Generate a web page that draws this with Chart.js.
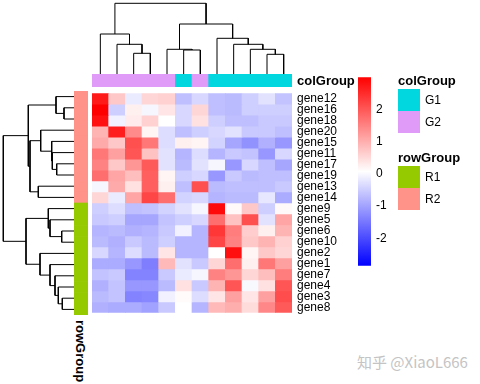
<!DOCTYPE html>
<html lang="en">
<head>
    <meta charset="UTF-8">
    <script src="https://cdn.jsdelivr.net/npm/chart.js"></script>
    <title>Heatmap</title>
    <style>
        body { margin: 0; background: #fff; font-family: "Liberation Sans", Arial, sans-serif; }
        #page { position: relative; width: 480px; height: 384px; overflow: hidden; }
        canvas, .txt, .sw { position: absolute; }
        .txt { white-space: nowrap; color: #000; }
        .bold { font-weight: bold; font-size: 13px; line-height: 15px; }
        .lab { font-size: 12px; line-height: 14px; }
        .sw { width: 22px; height: 22px; }
    </style>
</head>
<body>
<div id="page">
    <canvas id="colTree" width="200" height="74" style="left:92px;top:0px"></canvas>
    <canvas id="colBar" width="200" height="13" style="left:92px;top:74px"></canvas>
    <canvas id="rowTree" width="74" height="224" style="left:0px;top:91px"></canvas>
    <canvas id="rowBar" width="14" height="224" style="left:74px;top:91px"></canvas>
    <canvas id="heat" width="260" height="244" style="left:92px;top:81px"></canvas>
    <canvas id="scale" width="43" height="213" style="left:358px;top:65px"></canvas>

    <div class="txt bold" style="left:297px;top:73px">colGroup</div>
    <div class="txt bold" style="left:88px;top:320px;transform:rotate(90deg);transform-origin:left top">rowGroup</div>

    <div class="txt bold" style="left:398px;top:73px">colGroup</div>
    <div class="sw" id="swG1" style="left:398px;top:89px"></div>
    <div class="sw" id="swG2" style="left:398px;top:111px"></div>
    <div class="txt lab" style="left:425px;top:93px">G1</div>
    <div class="txt lab" style="left:425px;top:115px">G2</div>

    <div class="txt bold" style="left:398px;top:150px">rowGroup</div>
    <div class="sw" id="swR1" style="left:398px;top:166px"></div>
    <div class="sw" id="swR2" style="left:398px;top:188px"></div>
    <div class="txt lab" style="left:425px;top:170px">R1</div>
    <div class="txt lab" style="left:425px;top:192px">R2</div>

    <div class="txt" style="left:357px;top:351px;font-size:15px;color:#c4c4c4;font-family:'Noto Sans CJK SC',sans-serif">知乎 @XiaoL666</div>
</div>
<script>
    // rows top to bottom, as ordered by the clustering
    const geneNames = ['gene12', 'gene16', 'gene18', 'gene20', 'gene15', 'gene11', 'gene17', 'gene19', 'gene13', 'gene14',
        'gene9', 'gene5', 'gene6', 'gene10', 'gene2', 'gene1', 'gene7', 'gene4', 'gene3', 'gene8'];
    const colNames = ['S1', 'S2', 'S3', 'S4', 'S5', 'S6', 'S7', 'S8', 'S9', 'S10', 'S11', 'S12'];
    const colGroup = ['G2', 'G2', 'G2', 'G2', 'G2', 'G1', 'G2', 'G1', 'G1', 'G1', 'G1', 'G1'];
    const rowGroup = ['R2', 'R2', 'R2', 'R2', 'R2', 'R2', 'R2', 'R2', 'R2', 'R2',
        'R1', 'R1', 'R1', 'R1', 'R1', 'R1', 'R1', 'R1', 'R1', 'R1'];
    const groupColors = { G1: '#00D7DF', G2: '#E09AF8', R1: '#96CA00', R2: '#FF9289' };

    const values = [
        [2.70, 0.71, -0.15, 0.54, 0.60, -0.66, -0.38, -0.66, -0.72, -0.49, -0.26, -0.61], // gene12
        [3.00, -0.49, 0.25, -0.03, 0.37, -0.38, 0.54, -0.66, -0.72, -0.49, -0.49, -0.49], // gene16
        [2.80, -0.09, 0.30, 0.60, 0.08, -0.38, 0.42, -0.49, -0.66, -0.66, -0.55, -0.55], // gene18
        [0.94, 2.66, 1.40, 0.19, -0.32, -0.66, -0.49, -0.38, -0.26, -0.55, -0.55, -0.66], // gene20
        [1.05, 0.71, 2.08, 1.63, -0.32, 0.25, 0.19, -0.43, -0.95, -1.18, -0.83, -1.12], // gene15
        [1.63, 1.17, 2.03, 0.77, -0.26, -0.78, -0.32, -0.78, -0.55, -0.61, -1.12, -0.38], // gene11
        [1.51, 0.71, 1.28, 1.97, -0.26, -0.72, -0.26, -0.03, -1.12, -0.38, -0.66, -0.95], // gene17
        [1.74, 1.11, 0.82, 1.91, 0.19, -0.49, -0.38, -1.12, -0.55, -0.72, -0.66, -0.66], // gene19
        [-0.03, 1.05, 0.42, 1.91, 0.25, -0.66, 2.08, -0.72, -0.66, -0.66, -0.66, -0.55], // gene13
        [0.54, -0.15, 1.11, 2.20, 1.74, -0.43, -0.38, -0.78, -0.72, -0.72, -0.20, -0.89], // gene14
        [-0.49, -0.32, -0.66, -0.61, -0.43, -0.26, -0.03, 2.89, 0.14, 0.71, -0.49, 0.14], // gene9
        [-0.55, -0.49, -0.95, -0.95, -0.61, -0.49, -0.38, 1.74, 0.77, 2.08, -0.26, 1.11], // gene5
        [-0.78, -0.72, -0.83, -0.78, -0.55, -0.09, -0.78, 2.37, 1.57, 0.65, 0.25, 0.94], // gene6
        [-0.72, -0.83, -0.55, -0.72, -0.49, -0.78, -0.78, 2.20, 1.51, 0.71, 0.94, 0.60], // gene10
        [-0.38, -0.78, -0.32, -0.72, 0.37, -0.78, -0.78, 0.08, 2.83, 0.19, 0.71, 0.54], // gene2
        [-0.89, -0.89, -1.12, -1.40, 0.88, -0.26, -0.55, 0.54, 1.74, 0.25, 1.63, 1.17], // gene1
        [-0.61, -0.55, -1.35, -1.35, -0.55, -0.15, -0.03, 1.51, 1.28, 0.54, 0.82, 1.57], // gene7
        [-0.83, -0.61, -1.12, -1.12, -0.72, 0.42, -0.55, 0.94, 2.03, 0.00, 0.42, 2.03], // gene4
        [-0.72, -0.61, -1.35, -1.30, -0.09, 0.12, -0.32, 0.37, 1.17, 0.37, 1.17, 2.13], // gene3
        [-0.83, -0.89, -0.89, -1.00, -0.55, 0.08, -0.78, 0.88, 1.00, 0.48, 1.45, 1.97]  // gene8
    ];

    // colour key range and ticks
    const scaleMin = -2.85;
    const scaleMax = 3.0;
    const scaleTicks = [-2, -1, 0, 1, 2];

    // merges like hclust: negative = leaf (display position), positive = earlier merge; last = height
    const colMerges = [
        [-3, -4, 20.7], [-2, 1, 29.7], [-1, 2, 40], [-6, -7, 24], [-5, 4, 24.7],
        [-11, -12, 19.7], [-10, 6, 24.7], [-9, 7, 29.7], [-8, 8, 35.7], [5, 9, 50], [3, 10, 70.7]
    ];
    const rowMerges = [
        [-2, -3, 10], [-1, 1, 18], [-7, -8, 17.3], [-6, 3, 21.7], [-5, 4, 22.3], [-4, 5, 33.3],
        [-9, -10, 35.7], [6, 7, 44], [2, 8, 45.7], [-13, -14, 12.3], [-12, 10, 24], [-11, 11, 25.7],
        [-19, -20, 11.7], [-18, 13, 15.7], [-17, 14, 19], [-16, 15, 24], [-15, 16, 34], [12, 17, 48], [9, 18, 70.7]
    ];

    Chart.defaults.font.family = '"Liberation Sans", Arial, sans-serif';
    Chart.defaults.color = '#000';
    Chart.defaults.animation = false;
    Chart.defaults.plugins.legend.display = false;
    Chart.defaults.plugins.tooltip.enabled = false;

    function cellColor(v) {
        const t = (v - scaleMin) / (scaleMax - scaleMin);
        if (t < 0.5) {
            const c = Math.round(255 * Math.max(0, t) / 0.5);
            return 'rgb(' + c + ',' + c + ',255)';
        }
        const c = Math.round(255 * (1 - Math.min(1, (t - 0.5) / 0.5)));
        return 'rgb(255,' + c + ',' + c + ')';
    }

    function dendroSegments(merges) {
        const pos = [], hgt = [], segs = [];
        const node = id => id < 0 ? { p: -id - 1, h: 0 } : { p: pos[id - 1], h: hgt[id - 1] };
        merges.forEach(function (m, i) {
            const a = node(m[0]), b = node(m[1]), h = m[2];
            segs.push([{ p: a.p, h: a.h }, { p: a.p, h: h }, { p: b.p, h: h }, { p: b.p, h: b.h }]);
            pos[i] = (a.p + b.p) / 2;
            hgt[i] = h;
        });
        return segs;
    }

    function treeDatasets(merges, horizontal) {
        return dendroSegments(merges).map(s => ({
            data: s.map(q => horizontal ? { x: q.h, y: q.p } : { x: q.p, y: q.h }),
            showLine: true, borderColor: '#000', borderWidth: 1, pointRadius: 0, tension: 0, clip: false
        }));
    }

    const noAxis = { display: false };

    // column dendrogram
    new Chart(document.getElementById('colTree'), {
        type: 'scatter',
        data: { datasets: treeDatasets(colMerges, false) },
        options: {
            responsive: false, devicePixelRatio: 1,
            scales: {
                x: { type: 'linear', min: -0.5, max: colNames.length - 0.5, display: false },
                y: { type: 'linear', min: 0, max: 74, display: false }
            }
        }
    });

    // row dendrogram
    new Chart(document.getElementById('rowTree'), {
        type: 'scatter',
        data: { datasets: treeDatasets(rowMerges, true) },
        options: {
            responsive: false, devicePixelRatio: 1,
            scales: {
                x: { type: 'linear', min: 0, max: 74, reverse: true, display: false },
                y: { type: 'linear', min: -0.5, max: geneNames.length - 0.5, reverse: true, display: false }
            }
        }
    });

    // column annotation
    new Chart(document.getElementById('colBar'), {
        type: 'bar',
        data: {
            labels: colNames,
            datasets: [{
                data: colNames.map(() => 1),
                backgroundColor: colGroup.map(g => groupColors[g]),
                barPercentage: 1, categoryPercentage: 1, borderWidth: 0
            }]
        },
        options: {
            responsive: false, devicePixelRatio: 1,
            scales: { x: noAxis, y: { min: 0, max: 1, display: false } }
        }
    });

    // row annotation
    new Chart(document.getElementById('rowBar'), {
        type: 'bar',
        data: {
            labels: geneNames,
            datasets: [{
                data: geneNames.map(() => 1),
                backgroundColor: rowGroup.map(g => groupColors[g]),
                barPercentage: 1, categoryPercentage: 1, borderWidth: 0
            }]
        },
        options: {
            indexAxis: 'y',
            responsive: false, devicePixelRatio: 1,
            scales: { y: noAxis, x: { min: 0, max: 1, display: false } }
        }
    });

    // heatmap: one stacked dataset per gene row
    const heatSets = geneNames.map((g, r) => ({
        label: g,
        data: colNames.map(() => 1),
        backgroundColor: values[r].map(cellColor),
        barPercentage: 1, categoryPercentage: 1, borderWidth: 0
    }));

    new Chart(document.getElementById('heat'), {
        type: 'bar',
        data: { labels: colNames, datasets: heatSets },
        options: {
            responsive: false, devicePixelRatio: 1,
            layout: { padding: { top: 10, bottom: 10, left: 0, right: 0 } },
            scales: {
                x: { stacked: true, display: false },
                y: { stacked: true, min: 0, max: geneNames.length, reverse: true, display: false },
                genes: {
                    type: 'category', labels: geneNames, position: 'right', offset: true,
                    grid: { display: false, drawTicks: false }, border: { display: false },
                    ticks: { autoSkip: false, padding: 5, font: { size: 12 }, color: '#000' },
                    afterFit: s => { s.width = 60; }
                }
            }
        }
    });

    // colour key
    new Chart(document.getElementById('scale'), {
        type: 'bar',
        data: {
            labels: ['key'],
            datasets: [{
                data: [[scaleMin, scaleMax]],
                barPercentage: 1, categoryPercentage: 1, borderWidth: 0,
                backgroundColor: function (ctx) {
                    const area = ctx.chart.chartArea;
                    if (!area) return 'white';
                    const g = ctx.chart.ctx.createLinearGradient(0, area.bottom, 0, area.top);
                    g.addColorStop(0, 'rgb(0,0,255)');
                    g.addColorStop(0.5, 'rgb(255,255,255)');
                    g.addColorStop(1, 'rgb(255,0,0)');
                    return g;
                }
            }]
        },
        options: {
            responsive: false, devicePixelRatio: 1,
            layout: { padding: { top: 8, bottom: 8, left: 0, right: 0 } },
            scales: {
                x: noAxis,
                y: {
                    min: scaleMin, max: scaleMax, position: 'right',
                    grid: { display: false, drawTicks: false }, border: { display: false },
                    afterBuildTicks: s => { s.ticks = scaleTicks.map(v => ({ value: v })); },
                    ticks: { padding: 5, font: { size: 12 }, color: '#000', callback: v => String(v) },
                    afterFit: s => { s.width = 30; }
                }
            }
        }
    });

    document.getElementById('swG1').style.background = groupColors.G1;
    document.getElementById('swG2').style.background = groupColors.G2;
    document.getElementById('swR1').style.background = groupColors.R1;
    document.getElementById('swR2').style.background = groupColors.R2;
</script>
</body>
</html>
